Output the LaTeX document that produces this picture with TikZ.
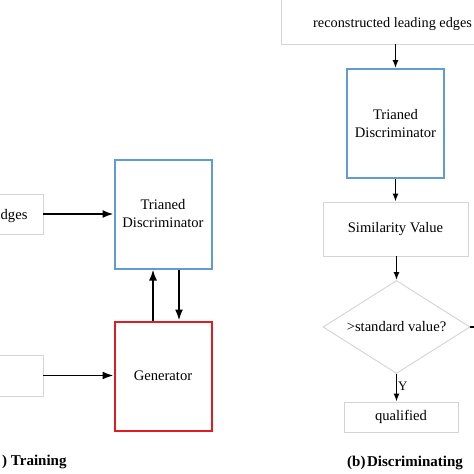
\documentclass[tikz,border=0pt]{standalone}
\usepackage{fontspec}
\setmainfont{Liberation Serif}
\usetikzlibrary{shapes.geometric,arrows.meta}
\definecolor{boxgray}{RGB}{212,212,212}
\definecolor{discblue}{RGB}{96,155,210}
\definecolor{genred}{RGB}{222,30,34}
\begin{document}
\begin{tikzpicture}[x=1pt,y=-1pt,
  every node/.style={font=\fontsize{14.6}{18}\selectfont, inner sep=0pt, align=center},
  graybox/.style={draw=boxgray, line width=0.9pt, rectangle},
  discbox/.style={draw=discblue, line width=2pt, rectangle, minimum width=97pt, minimum height=109pt},
  genbox/.style={draw=genred, line width=2pt, rectangle, minimum width=97pt, minimum height=109pt},
  arrL/.style={-{Latex[length=11pt,width=8pt]}, line width=1.8pt, black},
  arrR/.style={-{Latex[length=8pt,width=6pt]}, line width=1.3pt, black},
  captext/.style={font=\fontsize{15}{18}\selectfont\bfseries, anchor=base west}]
\useasboundingbox (0,0) rectangle (474,474);
\clip (0,0) rectangle (474,474);
\fill[white] (0,0) rectangle (474,474);

% ---- (a) Training ----
\node[graybox, minimum width=103pt, minimum height=40pt] (ltop) at (-8.5,214) {};
\node[anchor=base west] (ltoptxt) at (0.5,219) {dges};
\node[graybox, minimum width=103pt, minimum height=41pt] (lbot) at (-8.5,375.5) {};
\node[discbox] (disc1) at (163,214) {Trianed\\Discriminator};
\node[genbox] (gen) at (163,376) {Generator};

\draw[arrL] (ltop.east) -- (disc1.west);
\draw[arrL] (lbot.east) -- (gen.west |- lbot.east);
\draw[arrL] (gen.north -| 153,0) -- (disc1.south -| 153,0);
\draw[arrL] (disc1.south -| 179,0) -- (gen.north -| 179,0);

\node[captext] (capa) at (2,465) {) Training};

% ---- (b) Discriminating ----
\node[graybox, minimum width=230pt, minimum height=54pt] (top) at (396,17) {};
\node[anchor=base west, font=\fontsize{14.3}{18}\selectfont] (toptxt) at (313,27) {reconstructed leading edges};
\node[discbox] (disc2) at (395.5,123.5) {Trianed\\Discriminator};
\node[graybox, minimum width=145pt, minimum height=54pt] (sim) at (395.5,229) {Similarity Value};
\node[draw=boxgray, line width=0.9pt, diamond, minimum width=147pt, minimum height=93pt] (dec) at (396.5,327) {};
\node (dectxt) at (396.5,327) {>standard value?};
\node[graybox, minimum width=114pt, minimum height=30pt] (qual) at (401,417) {qualified};
\coordinate (stub) at (482,327);

\draw[arrR] (top.south -| 395.5,0) -- (disc2.north);
\draw[arrR] (disc2.south) -- (sim.north -| disc2.south);
\draw[arrR] (sim.south -| 396.5,0) -- (dec.north);
\draw[arrR] (dec.south) -- node[right=1pt, pos=0.45, font=\fontsize{13}{15}\selectfont] {Y} (qual.north -| dec.south);
\draw[line width=1.2pt] (dec.east) -- (stub);

\node[captext] (capb) at (347,466) {(b)\hspace{1.5pt}Discriminating};
\end{tikzpicture}
\end{document}
